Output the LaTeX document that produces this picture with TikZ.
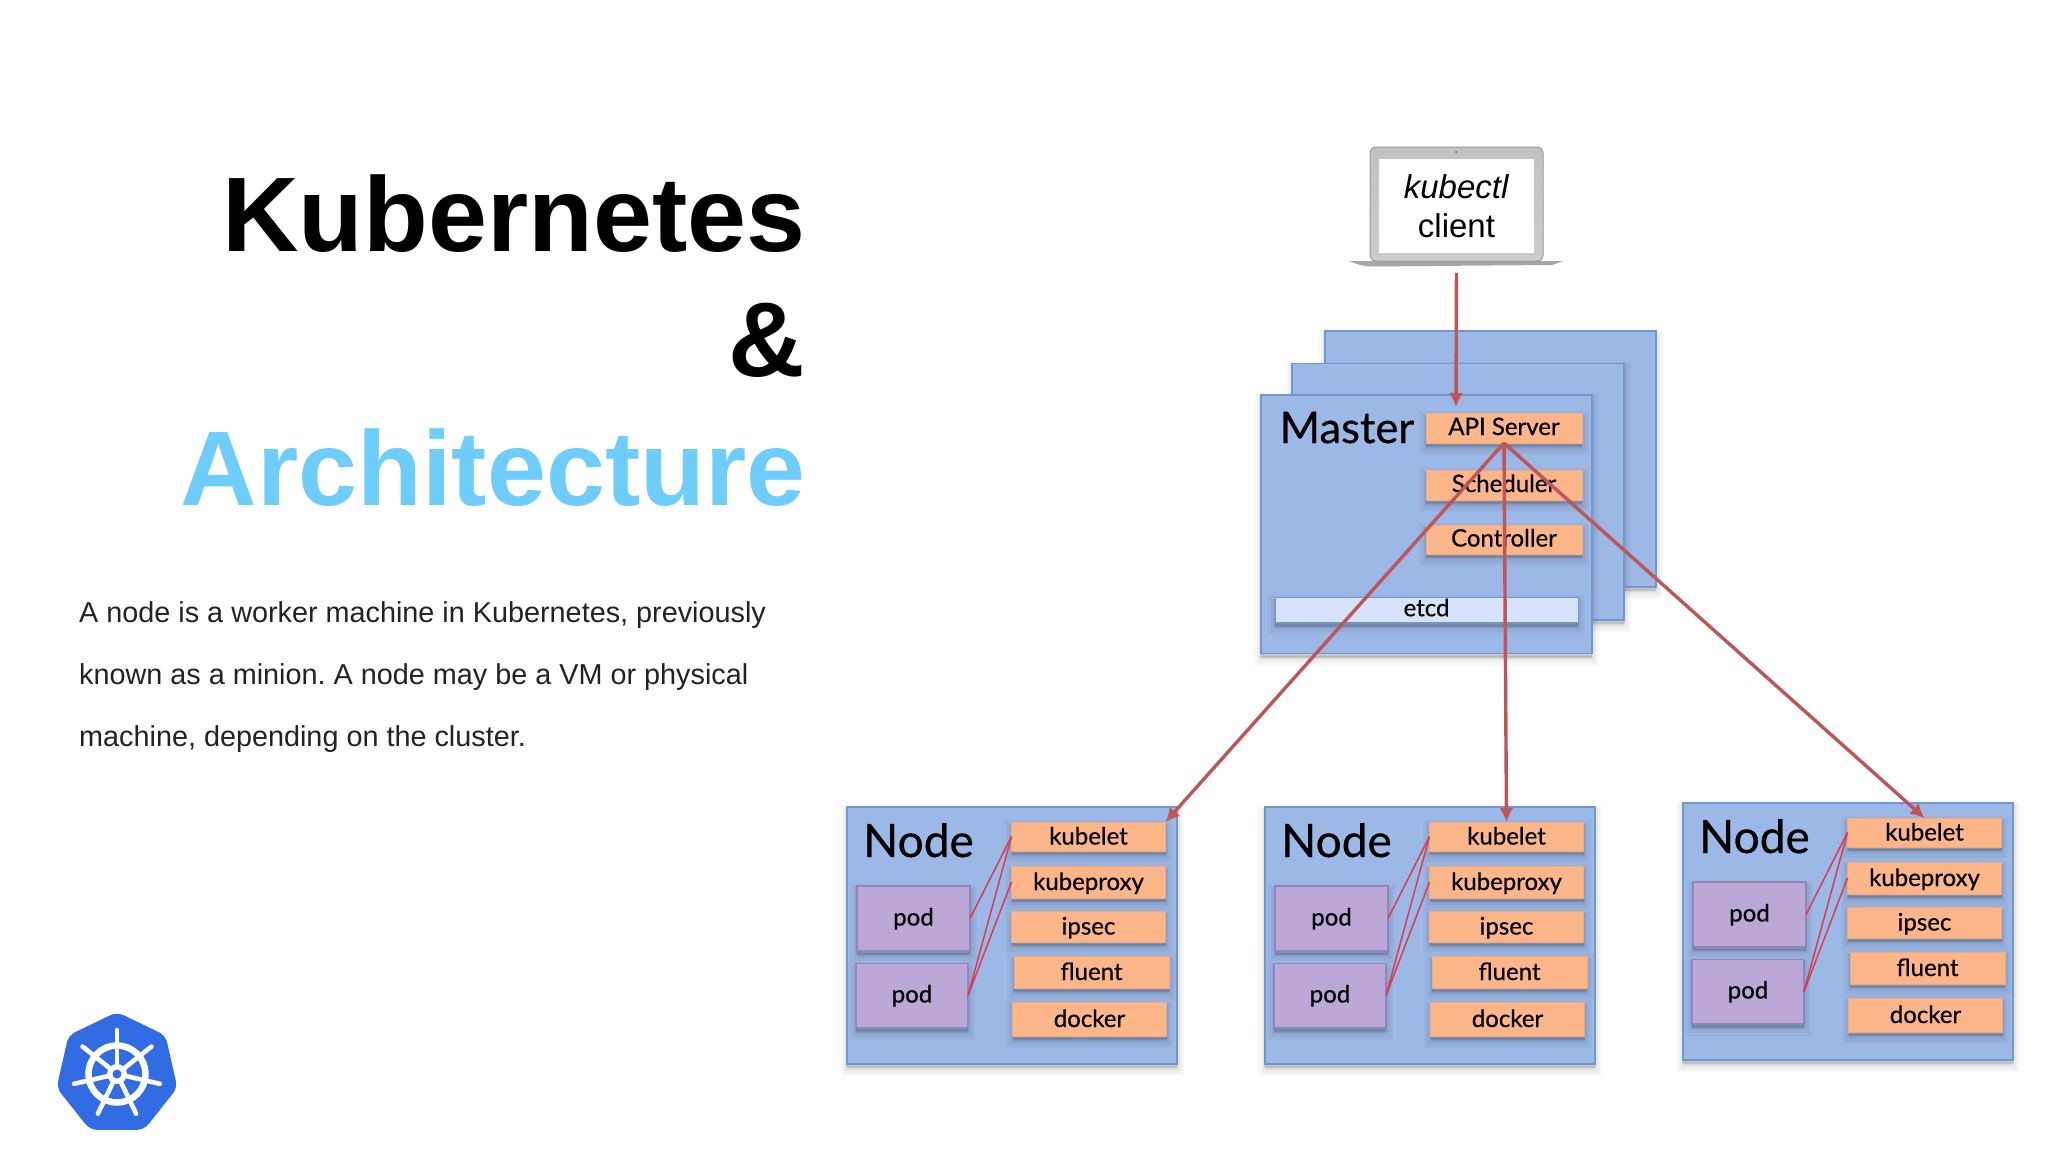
\documentclass[tikz,border=0pt]{standalone}
\usepackage{fontspec}
\setmainfont{Liberation Sans}
\newfontfamily\labelfont[FakeBold=0.5]{Lato}
\usetikzlibrary{arrows.meta}
\definecolor{panelblue}{HTML}{9CB8E6}
\definecolor{panelline}{HTML}{7198CC}
\definecolor{compfill}{HTML}{FDB68A}
\definecolor{compline}{HTML}{F5A878}
\definecolor{podfill}{HTML}{BBA8D6}
\definecolor{podline}{HTML}{9583BC}
\definecolor{etcdfill}{HTML}{D6E4FB}
\definecolor{arrowred}{HTML}{BE5558}
\definecolor{podred}{HTML}{D93C50}
\definecolor{archblue}{HTML}{6FCDFB}
\definecolor{logoblue}{HTML}{326CE5}
\definecolor{bodygray}{HTML}{222222}
\tikzset{
  softshadow/.style={
    preaction={fill=black,draw=black,opacity=.025,line width=14pt,transform canvas={yshift=-5pt}},
    preaction={fill=black,draw=black,opacity=.03,line width=9pt,transform canvas={yshift=-5pt}},
    preaction={fill=black,draw=black,opacity=.04,line width=5pt,transform canvas={yshift=-4pt}},
    preaction={fill=black,draw=black,opacity=.06,line width=2pt,transform canvas={yshift=-3pt}}},
  boxsize/.style 2 args={minimum width=#1pt,minimum height=#2pt},
  basebox/.style={rectangle,inner sep=0pt,outer sep=0pt,font=\labelfont\fontsize{24}{24}\selectfont,text height=18pt,text depth=2pt},
  panel/.style={basebox,fill=panelblue,draw=panelline,line width=1.2pt,softshadow},
  comp/.style={basebox,fill=compfill,draw=compline,line width=1pt,softshadow},
  mastercomp/.style={comp,text height=16pt},
  pod/.style={basebox,fill=podfill,draw=podline,line width=1.2pt,softshadow,text height=16pt},
  etcd/.style={basebox,fill=etcdfill,draw=panelline,line width=1pt,softshadow,text height=15pt},
  bigword/.style={inner sep=0pt,font=\labelfont\fontsize{46}{46}\selectfont},
  mainarrow/.style={draw=arrowred,line width=3.4pt,-{Latex[length=14pt,width=14pt]}},
  podlink/.style={draw=podred,line width=1.5pt},
  titletext/.style={inner sep=0pt,anchor=base east,font=\bfseries\fontsize{106}{106}\selectfont},
  bodytext/.style={inner sep=0pt,anchor=base west,text=bodygray,font=\frenchspacing\fontsize{28.8}{28.8}\selectfont}
}
\newcommand{\workernode}[3]{%
  \begin{scope}[shift={(#2,#3)}]
    \node[panel,boxsize={330}{257}] (#1) at (1012,935.5) {};
    \node[bigword,anchor=base west] (#1label) at (863,857) {Node};
    \node[comp,boxsize={154}{29}] (#1kubelet) at (1088.5,836.5) {kubelet};
    \node[comp,boxsize={154}{32}] (#1proxy) at (1088.5,882) {kubeproxy};
    \node[comp,boxsize={154}{31}] (#1ipsec) at (1088.5,926.5) {ipsec};
    \node[comp,boxsize={155}{32}] (#1fluent) at (1091.5,972) {fluent};
    \node[comp,boxsize={154}{34}] (#1docker) at (1089.5,1019) {docker};
    \node[pod,boxsize={113}{65}] (#1poda) at (913.5,918.5) {pod};
    \node[pod,boxsize={112}{64}] (#1podb) at (912,995.5) {pod};
    \draw[podlink] (#1poda.east) -- (#1kubelet.west);
    \draw[podlink] (#1podb.east) -- (#1kubelet.west);
    \draw[podlink] (#1podb.east) -- (#1proxy.west);
  \end{scope}}
\begin{document}
\begin{tikzpicture}[x=1pt,y=-1pt]
\useasboundingbox (0,0) rectangle (2048,1152);
\fill[white] (0,0) rectangle (2048,1152);

% left-hand text
\node[titletext] (t1) at (805.5,251) {Kubernetes};
\node[titletext] (t2) at (805.5,376) {\&};
\node[titletext,text=archblue] (t3) at (805.5,505) {Architecture};
\node[bodytext] (b1) at (79,622) {A node is a worker machine in Kubernetes, previously};
\node[bodytext] (b2) at (79,684) {known as a minion. A node may be a VM or physical};
\node[bodytext] (b3) at (79,746) {machine, depending on the cluster.};

% logo
\begin{scope}[shift={(117,1074)}]
  \fill[logoblue,rounded corners=7pt] (-90:62) -- (-38.57:62) -- (12.86:62) -- (64.29:62) -- (115.71:62) -- (167.14:62) -- (218.57:62) -- cycle;
  \draw[white,line width=6.5pt] (0,0) circle (28.5);
  \foreach \a in {-90,-38.57,12.86,64.29,115.71,167.14,218.57}
    \draw[white,line width=4.6pt,line cap=round] (0,0) -- (\a:44);
  \fill[white] (0,0) circle (10);
  \fill[logoblue] (0,0) circle (4.5);
\end{scope}

% laptop
\fill[black!35] (1349,261) -- (1563,261) -- (1552,265) -- (1368,266.5) -- (1360,265) -- cycle;
\node[rectangle,inner sep=0pt,outer sep=0pt,rounded corners=6pt,boxsize={173}{114},top color=black!24,bottom color=black!20,draw=black!40,line width=1pt] (laptop) at (1456.5,204) {};
\node[rectangle,inner sep=0pt,boxsize={155}{94},fill=white,align=center,font=\fontsize{33}{39}\selectfont] (screen) at (1456.5,206) {\textit{kubectl}\\client};
\fill[black!60] (1456,152) circle (1);

% master stack
\node[panel,boxsize={331}{256}] (mback) at (1490.5,459) {};
\node[panel,boxsize={332}{256.5}] (mmid) at (1458,491.75) {};
\node[panel,boxsize={331}{258.5}] (master) at (1426.5,524.25) {};
\node[bigword,anchor=base west,font=\labelfont\fontsize{43.5}{43.5}\selectfont] (mlabel) at (1279.5,443) {Master};
\node[mastercomp,boxsize={156}{30}] (api) at (1504,428) {API Server};
\node[mastercomp,boxsize={156}{30}] (sched) at (1504,485) {Scheduler};
\node[mastercomp,boxsize={156}{29}] (ctrl) at (1504,539.5) {Controller};
\node[etcd,boxsize={303}{25.5}] (etcdbar) at (1426.5,609.75) {etcd};

% workers
\workernode{na}{0}{0}
\workernode{nb}{418}{0}
\workernode{nc}{836}{-4}

% main connectors
\coordinate (apiin) at (1456,407);
\draw[mainarrow,shorten <=12pt] (laptop.south) -- (apiin);
\draw[mainarrow] (api.south) -- (nakubelet.north east);
\draw[mainarrow] (api.south) -- (nbkubelet.north);
\draw[mainarrow] (api.south) -- (nckubelet.north);
\end{tikzpicture}
\end{document}
